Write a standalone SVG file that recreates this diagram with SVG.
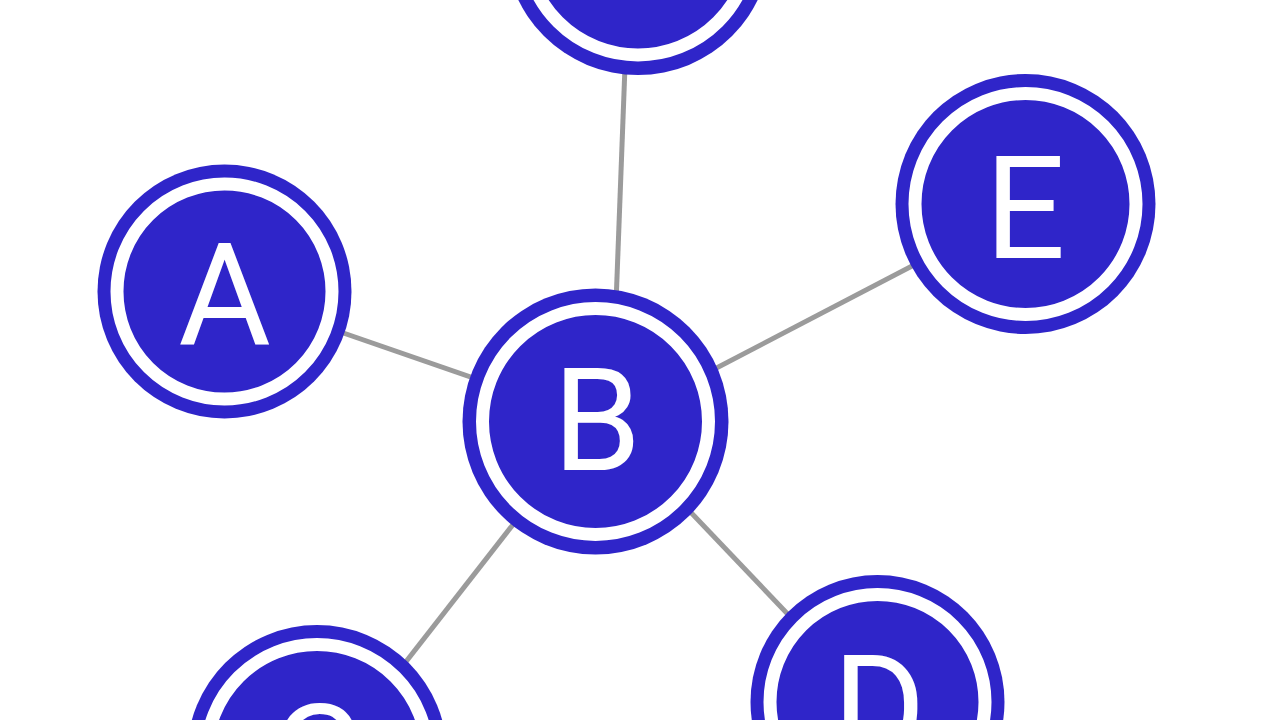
<svg xmlns="http://www.w3.org/2000/svg" width="1280" height="720" viewBox="0 0 1280 720">
<style>
.outer{fill:#2f25c9}
.ring{fill:none;stroke:#ffffff}
.lbl{font-family:Roboto,"Liberation Sans",sans-serif;font-size:142px;fill:#ffffff;text-anchor:middle}
.edge{stroke:#9b9b9b;stroke-width:5;fill:none;stroke-linecap:butt}
</style>
<rect width="1280" height="720" fill="#ffffff"/>
<g id="connectors">
<line class="edge" x1="626" y1="40" x2="615" y2="330"/>
<line class="edge" x1="300" y1="318" x2="520" y2="394"/>
<line class="edge" x1="960" y1="241" x2="680" y2="387"/>
<line class="edge" x1="380" y1="695" x2="540" y2="490"/>
<line class="edge" x1="820" y1="648" x2="660" y2="480"/>
</g>
<g id="node-top">
<circle class="outer" cx="638" cy="-58" r="133"/>
<circle class="ring" cx="638" cy="-58" r="113" stroke-width="13"/>
</g>
<g id="node-A">
<circle class="outer" cx="224.5" cy="291.5" r="127"/>
<circle class="ring" cx="224.5" cy="291.5" r="107.5" stroke-width="13"/>
<text class="lbl" x="224.5" y="345">A</text>
</g>
<g id="node-B">
<circle class="outer" cx="595.5" cy="421.5" r="133"/>
<circle class="ring" cx="595.5" cy="421.5" r="113" stroke-width="13"/>
<text class="lbl" x="597" y="470">B</text>
</g>
<g id="node-E">
<circle class="outer" cx="1025.5" cy="204" r="130"/>
<circle class="ring" cx="1025.5" cy="204" r="110.5" stroke-width="13"/>
<text class="lbl" x="1025" y="258">E</text>
</g>
<g id="node-C">
<circle class="outer" cx="317" cy="755" r="130"/>
<circle class="ring" cx="317" cy="755" r="110.5" stroke-width="13"/>
<text class="lbl" x="317" y="807">C</text>
</g>
<g id="node-D">
<circle class="outer" cx="877.5" cy="702" r="127"/>
<circle class="ring" cx="877.5" cy="702" r="107.5" stroke-width="13"/>
<text class="lbl" x="879" y="757">D</text>
</g>
</svg>
